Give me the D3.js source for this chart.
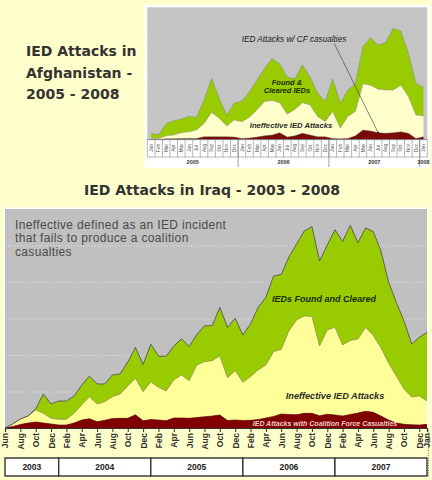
<!DOCTYPE html>
<html>
<head>
<meta charset="utf-8">
<script src="https://cdn.jsdelivr.net/npm/d3@7"></script>
<style>
  body { margin: 0; background: #ffffcc; }
  svg { display: block; }
</style>
</head>
<body>
<div id="chart"></div>
<script>
// ---------------------------------------------------------------- data
const monthNames = ['Jan','Feb','Mar','Apr','May','Jun','Jul','Aug','Sep','Oct','Nov','Dec'];

// Iraq, monthly, Jun 2003 .. Jan 2008
const iraqFirstYear = 2003;
const iraqFirstMonth = 5; // June
const iraqCasualty = [0,20,48,68,82,68,55,41,41,68,110,127,86,105,130,133,133,181,99,116,
  110,101,137,137,133,144,155,164,178,103,110,103,105,116,137,158,192,185,182,201,
  201,168,188,178,164,185,205,229,215,164,110,68,51,44,41,51];
const iraqIneffective = [0,35,75,96,165,133,78,78,78,133,205,302,243,255,299,333,442,500,398,518,
  448,406,521,589,515,719,753,758,808,586,675,523,598,679,726,887,886,1144,1297,1333,
  1326,955,1154,1201,973,1014,1014,1148,1052,932,780,644,483,381,397,319];
const iraqCleared = [0,0,0,0,15,265,196,251,251,237,274,283,274,243,297,274,329,422,373,514,
  428,475,465,497,468,418,493,479,667,690,718,648,722,858,927,1037,1025,1013,1042,1165,
  1233,1165,1165,1337,1418,1578,1318,1365,1422,1329,1106,1010,936,726,804,941];
const iraqYears = [2003, 2004, 2005, 2006, 2007];
const iraqGrid = [500, 1000, 1500, 2000, 2500];

// Afghanistan, monthly, Jan 2005 .. Jan 2008
const afgFirstYear = 2005;
const afgCasualty = [0,0,1,1,2,2,2,6,6,6,6,5,2,3,5,8,10,15,5,8,14,10,6,6,2,1,2,8,21,19,15,14,15,17,14,2,6];
const afgIneffective = [2,2,7,9,13,15,19,30,55,42,24,39,38,47,62,78,78,68,52,60,69,68,46,34,61,24,50,55,105,104,99,98,97,106,83,53,47];
const afgCleared = [12,8,28,32,31,35,29,53,78,45,25,38,47,58,68,75,96,88,84,69,86,64,53,46,74,57,60,64,85,108,100,108,140,123,98,72,65];
const afgYears = [2005, 2006, 2007, 2008];
const afgGrid = [60, 120, 180, 240];

const afgTitleLines = ['IED Attacks in', 'Afghanistan -', '2005 - 2008'];
const iraqTitle = 'IED Attacks in Iraq - 2003 - 2008';
const noteLines = ['Ineffective defined as an IED incident', 'that fails to produce a coalition', 'casualties'];

const keys = ['casualty', 'ineffective', 'cleared'];
const colors = {casualty: '#800000', ineffective: '#ffff99', cleared: '#99cc00'};

// ---------------------------------------------------------------- svg
const W = 432, H = 480;
const titleFont = "'DejaVu Sans', Verdana, sans-serif";
const font = "'Liberation Sans', Arial, sans-serif";

const svg = d3.select('#chart').append('svg')
  .attr('width', W)
  .attr('height', H);

svg.append('rect').attr('width', W).attr('height', H).attr('fill', '#ffffcc');

const afgTitle = svg.append('text')
  .attr('font-family', titleFont)
  .attr('font-weight', 'bold')
  .attr('font-size', 14)
  .attr('fill', '#333');
afgTitleLines.forEach((t, i) => {
  afgTitle.append('tspan').attr('x', 26).attr('y', 56 + i * 21.7).text(t);
});

svg.append('text')
  .attr('x', 212).attr('y', 195)
  .attr('text-anchor', 'middle')
  .attr('font-family', titleFont)
  .attr('font-weight', 'bold')
  .attr('font-size', 14)
  .attr('fill', '#333')
  .text(iraqTitle);

//////////////////////////////////////////////////////////////////// Iraq

const m = {l: 5, r: 427, t: 209, b: 428};

const iraqTable = iraqCasualty.map((c, i) => ({
  i: i, casualty: c, ineffective: iraqIneffective[i], cleared: iraqCleared[i]
}));

const x = d3.scaleLinear().domain([0, iraqTable.length - 1]).range([m.l, m.r]);
const y = d3.scaleLinear().domain([0, 3000]).range([m.b, m.t]);

svg.append('rect')
  .attr('x', m.l - 1.5).attr('y', m.t - 1.5)
  .attr('width', m.r - m.l + 3).attr('height', m.b - m.t + 2)
  .attr('fill', '#ffffff');
svg.append('rect')
  .attr('x', m.l).attr('y', m.t)
  .attr('width', m.r - m.l).attr('height', m.b - m.t)
  .attr('fill', '#c0c0c0');

const gridY = svg.append('g')
  .attr('transform', `translate(${m.l},0)`)
  .call(d3.axisLeft(y).tickValues(iraqGrid).tickSize(-(m.r - m.l)).tickFormat(''));
gridY.select('.domain').remove();
gridY.selectAll('line')
  .attr('stroke', '#e2e2e2')
  .attr('stroke-dasharray', '1,2');

const stack = d3.stack().keys(keys);
const iraqSeries = stack(iraqTable);

const area = d3.area()
  .x(d => x(d.data.i))
  .y0(d => y(d[0]))
  .y1(d => y(d[1]));
const topLine = d3.line()
  .x(d => x(d.data.i))
  .y(d => y(d[1]));

const plot = svg.append('g').attr('class', 'plot');

plot.selectAll('.layer')
  .data(iraqSeries.slice().reverse())
  .enter()
  .append('path')
  .attr('class', 'layer')
  .attr('d', area)
  .attr('fill', d => colors[d.key]);

plot.selectAll('.edge')
  .data(iraqSeries)
  .enter()
  .append('path')
  .attr('class', 'edge')
  .attr('d', topLine)
  .attr('fill', 'none')
  .attr('stroke', d => d.key === 'cleared' ? '#555' : (d.key === 'ineffective' ? '#7a7a3a' : '#5a0000'))
  .attr('stroke-width', d => d.key === 'cleared' ? 0.9 : 0.6);

// month axis
const monthTicks = d3.range(0, iraqTable.length, 2).concat([iraqTable.length - 1]);
const iraqMonth = i => monthNames[(iraqFirstMonth + i) % 12];

const axisX = svg.append('g')
  .attr('class', 'axis axis-x')
  .attr('transform', `translate(0,${m.b})`)
  .call(d3.axisBottom(x).tickValues(monthTicks).tickSize(4).tickFormat(iraqMonth));
axisX.select('.domain').attr('stroke', '#333').attr('stroke-width', 1.2);
axisX.selectAll('line').attr('stroke', '#333');
axisX.selectAll('text')
  .attr('transform', 'rotate(-90)')
  .attr('x', -5)
  .attr('y', 0)
  .attr('dy', '0.35em')
  .attr('text-anchor', 'end')
  .attr('font-family', font)
  .attr('font-weight', 'bold')
  .attr('font-size', 8.5)
  .attr('fill', '#333');

// year boxes
const yearIndex = yr => Math.max(0, Math.min(iraqTable.length - 1, (yr - iraqFirstYear) * 12 - iraqFirstMonth));
const years = svg.append('g').attr('class', 'years');
years.selectAll('rect')
  .data(iraqYears)
  .enter()
  .append('rect')
  .attr('x', d => x(yearIndex(d)))
  .attr('y', 458)
  .attr('width', d => x(yearIndex(d + 1)) - x(yearIndex(d)))
  .attr('height', 18)
  .attr('fill', '#ffffff')
  .attr('stroke', '#333')
  .attr('stroke-width', 1.4);
years.selectAll('text')
  .data(iraqYears)
  .enter()
  .append('text')
  .attr('x', d => (x(yearIndex(d)) + x(yearIndex(d + 1))) / 2)
  .attr('y', 470)
  .attr('text-anchor', 'middle')
  .attr('font-family', font)
  .attr('font-weight', 'bold')
  .attr('font-size', 8.5)
  .attr('fill', '#222')
  .text(d => d);
svg.append('line')
  .attr('x1', m.r + 1.5).attr('x2', m.r + 1.5)
  .attr('y1', 430).attr('y2', 477)
  .attr('stroke', '#777')
  .attr('stroke-dasharray', '1,1.5');

// annotations
const note = svg.append('text')
  .attr('font-family', font)
  .attr('font-size', 12)
  .attr('letter-spacing', 0.35)
  .attr('fill', '#4a4a4a');
noteLines.forEach((t, i) => {
  note.append('tspan').attr('x', 15).attr('y', 228.5 + i * 13.6).text(t);
});

svg.append('text')
  .attr('x', 324).attr('y', 302)
  .attr('text-anchor', 'middle')
  .attr('font-family', font).attr('font-weight', 'bold').attr('font-style', 'italic')
  .attr('font-size', 9).attr('fill', '#1e2a00')
  .text('IEDs Found and Cleared');
svg.append('text')
  .attr('x', 335).attr('y', 399)
  .attr('text-anchor', 'middle')
  .attr('font-family', font).attr('font-weight', 'bold').attr('font-style', 'italic')
  .attr('font-size', 9.2).attr('fill', '#2a2a2a')
  .text('Ineffective IED Attacks');
svg.append('text')
  .attr('x', 325).attr('y', 428 - 0.2)
  .attr('dy', '-0.2em')
  .attr('text-anchor', 'middle')
  .attr('font-family', font).attr('font-weight', 'bold').attr('font-style', 'italic')
  .attr('font-size', 7).attr('fill', '#f3cccc')
  .text('IED Attacks with Coalition Force Casualties');

//////////////////////////////////////////////////////////////////// Afghanistan inset

const n = {l: 147.3, r: 427.3, t: 7.3, b: 139.3};

const afgTable = afgCasualty.map((c, i) => ({
  i: i, casualty: c, ineffective: afgIneffective[i], cleared: afgCleared[i]
}));

const xi = d3.scaleLinear().domain([-0.5, afgTable.length - 0.5]).range([n.l, n.r]);
const yi = d3.scaleLinear().domain([0, 300]).range([n.b, n.t]);

const inset = svg.append('g').attr('class', 'inset');

inset.append('rect')
  .attr('x', n.l - 2.8).attr('y', n.t - 2.8)
  .attr('width', n.r - n.l + 5.6).attr('height', 168 - n.t + 2.8)
  .attr('fill', '#ffffff');
inset.append('rect')
  .attr('x', n.l).attr('y', n.t)
  .attr('width', n.r - n.l).attr('height', n.b - n.t)
  .attr('fill', '#c4c4c4');

const gridI = inset.append('g')
  .attr('transform', `translate(${n.l},0)`)
  .call(d3.axisLeft(yi).tickValues(afgGrid).tickSize(-(n.r - n.l)).tickFormat(''));
gridI.select('.domain').remove();
gridI.selectAll('line').attr('stroke', '#cdcdcd').attr('stroke-width', 0.6);

const afgSeries = stack(afgTable);
const areaI = d3.area()
  .x(d => xi(d.data.i))
  .y0(d => yi(d[0]))
  .y1(d => yi(d[1]));
const lineI = d3.line()
  .x(d => xi(d.data.i))
  .y(d => yi(d[1]));

const colorsI = {casualty: '#7a0a0a', ineffective: '#ffffcc', cleared: '#99cc00'};

inset.selectAll('.layer')
  .data(afgSeries.slice().reverse())
  .enter()
  .append('path')
  .attr('class', 'layer')
  .attr('d', areaI)
  .attr('fill', d => colorsI[d.key]);
inset.selectAll('.edge')
  .data(afgSeries)
  .enter()
  .append('path')
  .attr('class', 'edge')
  .attr('d', lineI)
  .attr('fill', 'none')
  .attr('stroke', '#777')
  .attr('stroke-width', 0.4);

// month cells
const cells = inset.append('g');
cells.selectAll('line')
  .data(d3.range(afgTable.length + 1))
  .enter()
  .append('line')
  .attr('x1', d => xi(d - 0.5)).attr('x2', d => xi(d - 0.5))
  .attr('y1', n.b).attr('y2', 157)
  .attr('stroke', '#888')
  .attr('stroke-width', 0.6);
cells.append('line')
  .attr('x1', n.l).attr('x2', n.r)
  .attr('y1', n.b + 0.3).attr('y2', n.b + 0.3)
  .attr('stroke', '#666').attr('stroke-width', 0.8);
cells.append('line')
  .attr('x1', n.l).attr('x2', n.r)
  .attr('y1', 157).attr('y2', 157)
  .attr('stroke', '#888').attr('stroke-width', 0.6);
cells.selectAll('text')
  .data(afgTable)
  .enter()
  .append('text')
  .attr('transform', d => `translate(${xi(d.i)},148) rotate(-90)`)
  .attr('dy', '0.35em')
  .attr('text-anchor', 'middle')
  .attr('font-family', font)
  .attr('font-size', 4.6)
  .attr('fill', '#555')
  .text(d => monthNames[d.i % 12]);

const afgYearStart = yr => (yr - afgFirstYear) * 12 - 0.5;
const afgYearEnd = yr => Math.min(afgTable.length - 0.5, (yr + 1 - afgFirstYear) * 12 - 0.5);
cells.selectAll('.ydiv')
  .data(afgYears.slice(1))
  .enter()
  .append('line')
  .attr('class', 'ydiv')
  .attr('x1', d => xi(afgYearStart(d))).attr('x2', d => xi(afgYearStart(d)))
  .attr('y1', n.b).attr('y2', 167)
  .attr('stroke', '#777').attr('stroke-width', 0.7);
cells.selectAll('.ylab')
  .data(afgYears)
  .enter()
  .append('text')
  .attr('class', 'ylab')
  .attr('x', d => (xi(afgYearStart(d)) + xi(afgYearEnd(d))) / 2)
  .attr('y', 164)
  .attr('text-anchor', 'middle')
  .attr('font-family', font)
  .attr('font-weight', 'bold')
  .attr('font-size', 5.5)
  .attr('fill', '#333')
  .text(d => d);

// inset annotations
const pointAt = 30;
inset.append('line')
  .attr('x1', 334.3).attr('y1', 43.5)
  .attr('x2', xi(pointAt)).attr('y2', yi(afgCasualty[pointAt]))
  .attr('stroke', '#333').attr('stroke-width', 0.6);
inset.append('circle')
  .attr('cx', xi(pointAt)).attr('cy', yi(afgCasualty[pointAt]))
  .attr('r', 1).attr('fill', '#222');

inset.append('text')
  .attr('x', 294).attr('y', 42)
  .attr('text-anchor', 'middle')
  .attr('font-family', font).attr('font-style', 'italic')
  .attr('font-size', 8.2).attr('fill', '#222')
  .text('IED Attacks w/ CF casualties');

const found = inset.append('text')
  .attr('text-anchor', 'middle')
  .attr('font-family', font).attr('font-weight', 'bold').attr('font-style', 'italic')
  .attr('font-size', 7.5).attr('fill', '#1e2a00');
found.append('tspan').attr('x', 287).attr('y', 85).text('Found &');
found.append('tspan').attr('x', 287).attr('y', 93).text('Cleared IEDs');

inset.append('text')
  .attr('x', 291).attr('y', 127.5)
  .attr('text-anchor', 'middle')
  .attr('font-family', font).attr('font-weight', 'bold').attr('font-style', 'italic')
  .attr('font-size', 7.7).attr('fill', '#2a2a2a')
  .text('Ineffective IED Attacks');
</script>
</body>
</html>
